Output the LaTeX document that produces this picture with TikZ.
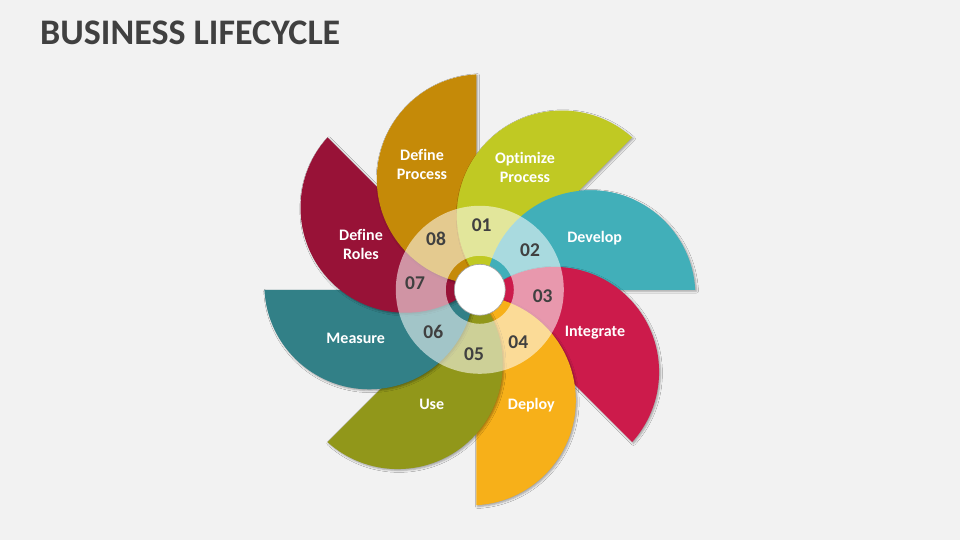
\documentclass[tikz,border=0pt]{standalone}
\usepackage{fontspec}
\setmainfont{Carlito}[Ligatures={NoCommon}]
\usetikzlibrary{calc,shadows.blur}
\definecolor{bg}{RGB}{242,242,242}
\definecolor{titlegray}{RGB}{64,64,64}
\definecolor{numgray}{RGB}{64,64,64}
\definecolor{corange}{RGB}{197,138,8}
\definecolor{clime}{RGB}{192,201,35}
\definecolor{cteal}{RGB}{65,175,185}
\definecolor{ccrim}{RGB}{204,27,75}
\definecolor{cyell}{RGB}{247,176,25}
\definecolor{colive}{RGB}{145,151,26}
\definecolor{cdteal}{RGB}{50,128,135}
\definecolor{cdred}{RGB}{152,18,55}
\newcommand\drawpetal[4]{%
  \fill[#3,#4] ($(#1)+(#2:215.4pt)$) arc[start angle=#2+3, end angle=#2+177, radius=105pt] -- cycle;}
\begin{document}
\begin{tikzpicture}[x=1pt,y=1pt,
  petalshadow/.style={blur shadow={shadow xshift=1.3pt, shadow yshift=-1.3pt, shadow blur radius=2pt, shadow opacity=35}},
  lbl/.style={text=white, font=\fontsize{16}{19}\selectfont\bfseries, align=center, inner sep=0pt},
  num/.style={text=numgray, font=\fontsize{19.5}{22}\selectfont\bfseries, inner sep=0pt}]
\fill[bg] (0,0) rectangle (960,540);
\useasboundingbox (0,0) rectangle (960,540);
\coordinate (C) at (479.8,250.2);
\coordinate (CV) at (476.3,250.2);
% petals, each over its counter-clockwise neighbour
\drawpetal{C}{0}{cteal}{petalshadow}
\drawpetal{C}{-45}{ccrim}{petalshadow}
\drawpetal{CV}{-90}{cyell}{petalshadow}
\drawpetal{C}{-135}{colive}{petalshadow}
\drawpetal{C}{180}{cdteal}{petalshadow}
\drawpetal{C}{135}{cdred}{petalshadow}
\drawpetal{CV}{90}{corange}{petalshadow}
\drawpetal{C}{45}{clime}{petalshadow}
\begin{scope}
  \clip (C) -- ($(C)+(30:300pt)$) -- ($(C)+(100:300pt)$) -- cycle;
  \drawpetal{C}{0}{cteal}{}
\end{scope}
% translucent ring
\fill[white, opacity=0.55, even odd rule] (C) circle (84pt) (C) circle (34pt);
% hub
\node[circle, fill=white, draw=gray!75, line width=0.6pt, minimum size=51pt, inner sep=0pt] (hub) at (C) {};
% numbers
\node[num] (n1) at (481.7,315) {01};
\node[num] (n2) at (530,290) {02};
\node[num] (n3) at (542.7,244) {03};
\node[num] (n4) at (518.3,198.3) {04};
\node[num] (n5) at (474,186) {05};
\node[num] (n6) at (433.3,208.3) {06};
\node[num] (n7) at (415,256.7) {07};
\node[num] (n8) at (436,300.7) {08};
% labels
\node[lbl] (l1) at (422,375.5) {Define\\Process};
\node[lbl] (l2) at (525,372.7) {Optimize\\Process};
\node[lbl, anchor=base] (l3) at (594.7,297.2) {Develop};
\node[lbl, anchor=base] (l4) at (595,203.5) {Integrate};
\node[lbl, anchor=base] (l5) at (531.3,130.2) {Deploy};
\node[lbl, anchor=base] (l6) at (431.7,130.5) {Use};
\node[lbl, anchor=base] (l7) at (355.7,196) {Measure};
\node[lbl] (l8) at (361,295.7) {Define\\Roles};
% title
\node[anchor=base west, inner sep=0pt, text=titlegray, font=\fontsize{36}{40}\selectfont\bfseries] (title) at (40,495) {BUSINESS LIFECYCLE};
\end{tikzpicture}
\end{document}
